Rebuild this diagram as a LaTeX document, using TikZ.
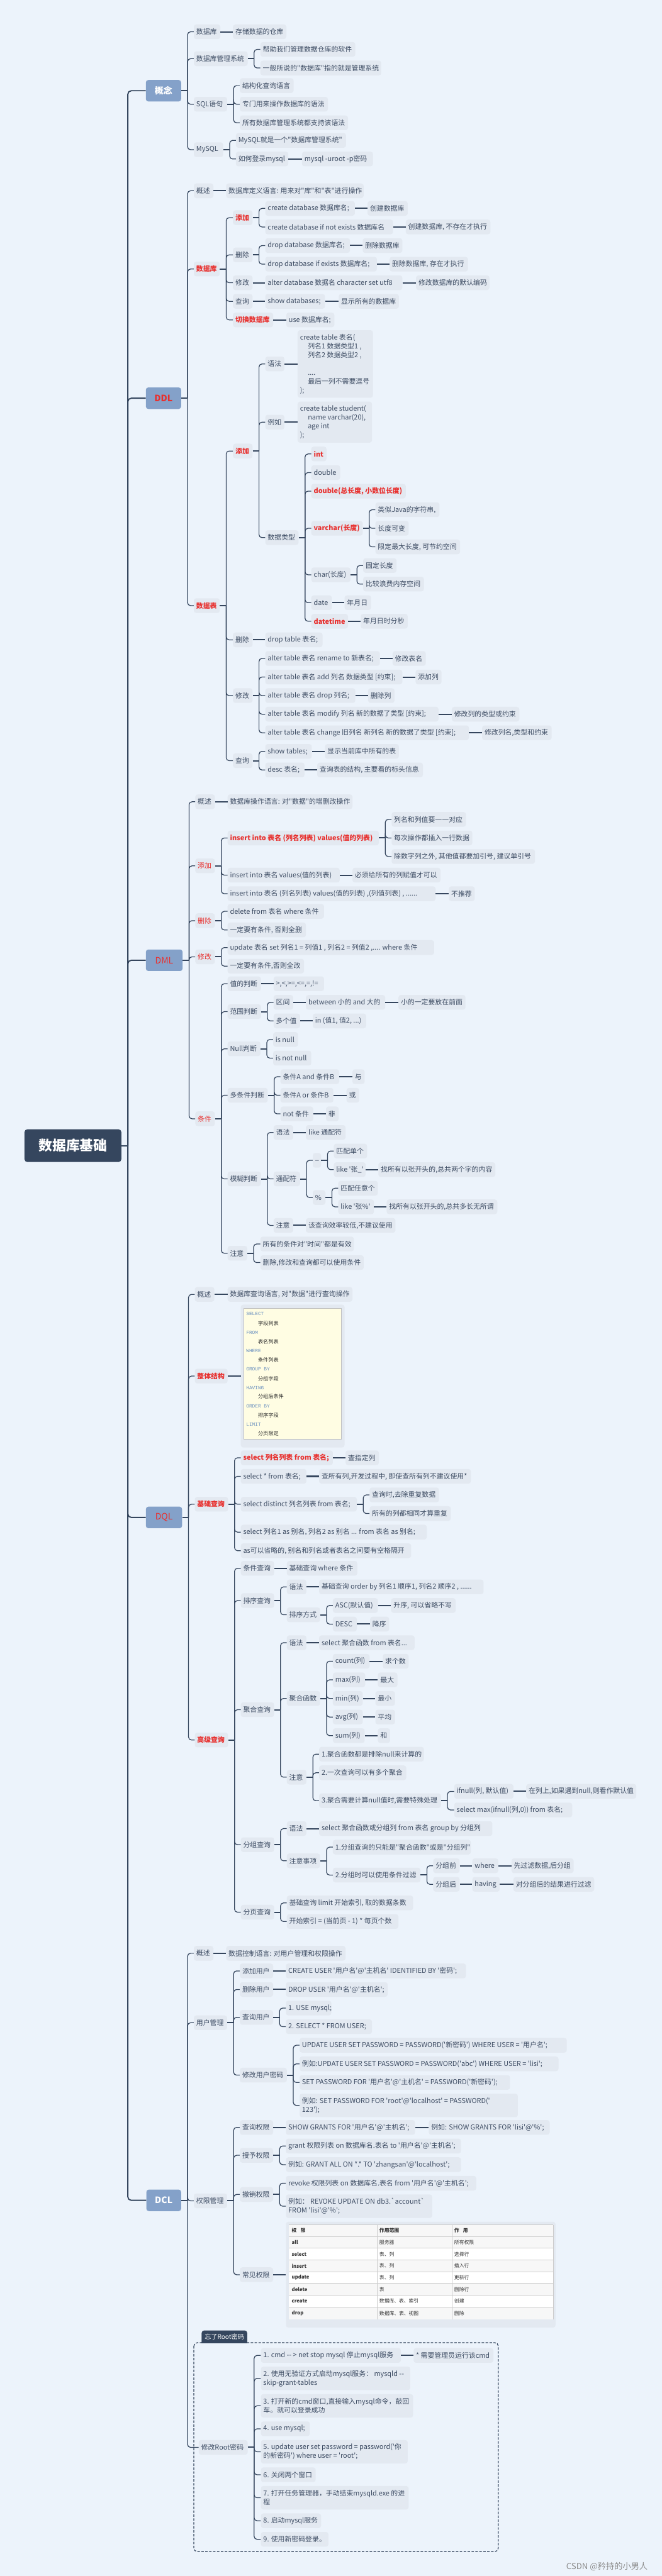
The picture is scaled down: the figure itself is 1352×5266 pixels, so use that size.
\documentclass[tikz,border=0pt]{standalone}
\usepackage{fontspec}
\newfontfamily\mf{Noto Sans CJK SC}
\newfontfamily\mn{Liberation Mono}
\definecolor{bgc}{HTML}{ECF3FB}
\definecolor{boxc}{HTML}{E3E9F1}
\definecolor{ink}{HTML}{3D4C63}
\definecolor{linec}{HTML}{35465E}
\definecolor{mainc}{HTML}{84A1C9}
\definecolor{redc}{HTML}{E8302E}
\definecolor{yel}{HTML}{FFFDE3}
\definecolor{kwc}{HTML}{6A90BF}
\tikzset{
  box/.style={fill=boxc,rounded corners=5pt,inner xsep=5pt,inner ysep=0pt,minimum height=30pt,text=ink,font=\mf\fontsize{14}{18}\selectfont},
  rd/.style={text=redc},
  rb/.style={text=redc,font=\mf\bfseries\fontsize{14}{18}\selectfont},
  mainbox/.style={fill=mainc,rounded corners=5pt,inner sep=0pt,minimum height=44pt,text=white,font=\mf\bfseries\fontsize{18}{22}\selectfont},
  stub/.style={draw=linec,line width=2.6pt},
  branch/.style={draw=linec,line width=1.6pt,rounded corners=6pt},
  mstub/.style={draw=linec,line width=3pt},
  mbranch/.style={draw=linec,line width=2.4pt,rounded corners=7pt},
  frameb/.style={draw=linec,line width=1.6pt,dash pattern=on 5pt off 3pt,rounded corners=7pt},
  kw/.style={anchor=west,inner sep=0pt,text=kwc,font=\mn\fontsize{10}{12}\selectfont},
  zh/.style={anchor=west,inner sep=0pt,text=black!85,font=\mf\fontsize{10.5}{12}\selectfont},
  cell/.style={anchor=west,inner sep=0pt,text=black!80,font=\mf\fontsize{10}{12}\selectfont},
  cellb/.style={cell,font=\mf\bfseries\fontsize{10}{12}\selectfont},
  wm/.style={inner sep=0pt,text=black!45,font=\mf\fontsize{17}{20}\selectfont},
}
% single-line box: [opts]{name}{x1}{x2}{y}{text}
\newcommand\nd[6][]{%
  \pgfmathsetlengthmacro\ndwd{(#4)-(#3)-10}%
  \node[box,#1,minimum width={(#4)-(#3)}] (#2) at ({((#3)+(#4))/2},#5) {\makebox[\ndwd][l]{#6}};}
% multi-line box: [opts]{name}{x1}{x2}{y}{h}{text}
\newcommand\ndm[7][]{%
  \pgfmathsetlengthmacro\ndwd{(#4)-(#3)-10}%
  \node[box,#1,align=left,text width=\ndwd,minimum height=#6pt] (#2) at ({((#3)+(#4))/2},#5) {\spaceskip=0pt\xspaceskip=0pt #7};}
\newcommand\mnd[6][]{\node[mainbox,#1,minimum width={(#4)-(#3)}] (#2) at ({((#3)+(#4))/2},#5) {#6};}
% parent to children
\newcommand\tree[2]{%
  \draw[stub] (#1.east) -- ++(13,0);
  \foreach \c in {#2}{\draw[branch] ([xshift=13pt]#1.east) |- (\c.west);}}
\newcommand\lnk[2]{\draw[stub] (#1.east) -- (#2.west);}
\begin{document}
\begin{tikzpicture}[x=1pt,y=-1pt]
\useasboundingbox (0,0) rectangle (1352,5266);
\fill[bgc] (0,0) rectangle (1352,5266);
\node[fill=linec,rounded corners=6pt,inner sep=0pt,minimum width=198pt,minimum height=67pt,text=white,font=\mf\bfseries\fontsize{28}{32}\selectfont] (root) at (149,2342) {数据库基础};
% ---------- main nodes
\mnd{m1}{298}{370}{185.5}{概念}
\mnd[text=redc]{m2}{298}{370}{814}{DDL}
\mnd[text=redc,font=\mf\fontsize{18}{22}\selectfont]{m3}{298}{373}{1963}{DML}
\mnd[text=redc,font=\mf\fontsize{18}{22}\selectfont]{m4}{298}{372}{3102}{DQL}
\mnd{m5}{299}{370}{4498}{DCL}
\draw[mstub] (root.east) -- ++(13,0);
\foreach \c in {m1,m2,m3,m4,m5}{\draw[mbranch] ([xshift=13pt]root.east) |- (\c.west);}
% ---------- concept
\nd{a1}{396}{450}{65}{数据库}
\nd{a1a}{476}{585}{65}{存储数据的仓库}
\nd{a2}{396}{506}{120}{数据库管理系统}
\nd{a2a}{532}{726}{101}{帮助我们管理数据仓库的软件}
\nd{a2b}{532}{779}{139}{一般所说的"数据库"指的就是管理系统}
\nd{a3}{396}{464}{213}{SQL语句}
\nd{a3a}{490}{600}{175}{结构化查询语言}
\nd{a3b}{490}{670}{213}{专门用来操作数据库的语法}
\nd{a3c}{490}{711}{251}{所有数据库管理系统都支持该语法}
\nd{a4}{396}{456}{306}{MySQL}
\nd{a4a}{482}{707}{287}{MySQL就是一个"数据库管理系统"}
\nd{a4b}{482}{589}{325}{如何登录mysql}
\nd{a4c}{617}{762}{325}{mysql -uroot -p密码}
\tree{m1}{a1,a2,a3,a4}
\lnk{a1}{a1a}\tree{a2}{a2a,a2b}\tree{a3}{a3a,a3b,a3c}\tree{a4}{a4a,a4b}\lnk{a4b}{a4c}
% ---------- DDL: database
\nd{b1}{396}{436}{390}{概述}
\nd{b1a}{462}{743}{390}{数据库定义语言: 用来对"库"和"表"进行操作}
\nd[rb]{b2}{396}{449}{550}{数据库}
\nd[rb]{b3}{476}{516}{445}{添加}
\nd{b3a}{542}{725}{426}{create database 数据库名;}
\nd{b3a1}{751}{833}{426}{创建数据库}
\nd{b3b}{542}{803}{464}{create database if not exists 数据库名}
\nd{b3b1}{829}{1002}{464}{创建数据库, 不存在才执行}
\nd{b4}{476}{516}{521}{删除}
\nd{b4a}{542}{715}{502}{drop database 数据库名;}
\nd{b4a1}{741}{822}{502}{删除数据库}
\nd{b4b}{542}{770}{540}{drop database if exists 数据库名;}
\nd{b4b1}{796}{956}{540}{删除数据库, 存在才执行}
\nd{b5}{476}{516}{578}{修改}
\nd{b5a}{542}{822}{578}{alter database 数据名 character set  utf8}
\nd{b5b}{850}{1000}{578}{修改数据库的默认编码}
\nd{b6}{476}{516}{616}{查询}
\nd{b6a}{542}{664}{616}{show databases;}
\nd{b6b}{692}{815}{616}{显示所有的数据库}
\nd[rb]{b7}{476}{558}{654}{切换数据库}
\nd{b7a}{585}{683}{654}{use 数据库名;}
% ---------- DDL: table
\nd[rb]{c0}{396}{449}{1238}{数据表}
\nd[rb]{c1}{476}{516}{922}{添加}
\nd{c1a}{542}{581}{744}{语法}
\ndm{c1a1}{608}{762}{744}{138}{create table 表名(\\\hspace*{16pt}列名1 数据类型1 ,\\\hspace*{16pt}列名2 数据类型2 ,\\\mbox{}\\\hspace*{16pt}....\\\mbox{\hspace*{16pt}最后一列不需要逗号}\\);}
\nd{c1b}{542}{581}{863}{例如}
\ndm{c1b1}{608}{760}{863}{84}{create table student(\\\hspace*{16pt}name varchar(20),\\\hspace*{16pt}age int\\);}
\nd{c1c}{542}{610}{1099}{数据类型}
\nd[rb]{t1}{636}{667}{928}{int}
\nd{t2}{636}{695}{966}{double}
\nd[rb]{t3}{636}{829}{1004}{double(总长度, 小数位长度)}
\nd[rb]{t4}{636}{741}{1080}{varchar(长度)}
\nd{t4a}{767}{898}{1042}{类似Java的字符串,}
\nd{t4b}{767}{835}{1080}{长度可变}
\nd{t4c}{767}{940}{1118}{限定最大长度, 可节约空间}
\nd{t5}{636}{716}{1175}{char(长度)}
\nd{t5a}{742}{810}{1156}{固定长度}
\nd{t5b}{742}{866}{1194}{比较浪费内存空间}
\nd{t6}{636}{678}{1232}{date}
\nd{t6a}{704}{758}{1232}{年月日}
\nd[rb]{t7}{636}{711}{1270}{datetime}
\nd{t7a}{737}{833}{1270}{年月日时分秒}
\nd{c2}{476}{516}{1308}{删除}
\nd{c2a}{542}{659}{1308}{drop table 表名;}
\nd{c3}{476}{516}{1422}{修改}
\nd{c3a}{542}{776}{1346}{alter table 表名 rename to 新表名;}
\nd{c3a1}{802}{870}{1346}{修改表名}
\nd{c3b}{542}{822}{1384}{alter table 表名 add 列名 数据类型 [约束];}
\nd{c3b1}{849}{902}{1384}{添加列}
\nd{c3c}{542}{726}{1422}{alter table 表名 drop 列名;}
\nd{c3c1}{752}{806}{1422}{删除列}
\nd{c3d}{542}{896}{1460}{alter table 表名 modify 列名 新的数据了类型 [约束];}
\nd{c3d1}{923}{1061}{1460}{修改列的类型或约束}
\nd{c3e}{542}{958}{1498}{alter table 表名 change 旧列名 新列名 新的数据了类型 [约束];}
\nd{c3e1}{985}{1127}{1498}{修改列名,类型和约束}
\nd{c4}{476}{516}{1555}{查询}
\nd{c4a}{542}{637}{1536}{show tables;}
\nd{c4a1}{664}{815}{1536}{显示当前库中所有的表}
\nd{c4b}{542}{622}{1574}{desc 表名;}
\nd{c4b1}{648}{864}{1574}{查询表的结构, 主要看的标头信息}
\tree{m2}{b1,b2,c0}
\lnk{b1}{b1a}\tree{b2}{b3,b4,b5,b6,b7}
\tree{b3}{b3a,b3b}\lnk{b3a}{b3a1}\lnk{b3b}{b3b1}
\tree{b4}{b4a,b4b}\lnk{b4a}{b4a1}\lnk{b4b}{b4b1}
\lnk{b5}{b5a}\lnk{b5a}{b5b}\lnk{b6}{b6a}\lnk{b6a}{b6b}\lnk{b7}{b7a}
\tree{c0}{c1,c2,c3,c4}
\tree{c1}{c1a,c1b,c1c}\lnk{c1a}{c1a1}\lnk{c1b}{c1b1}
\tree{c1c}{t1,t2,t3,t4,t5,t6,t7}
\tree{t4}{t4a,t4b,t4c}\tree{t5}{t5a,t5b}\lnk{t6}{t6a}\lnk{t7}{t7a}
\lnk{c2}{c2a}
\tree{c3}{c3a,c3b,c3c,c3d,c3e}
\lnk{c3a}{c3a1}\lnk{c3b}{c3b1}\lnk{c3c}{c3c1}\lnk{c3d}{c3d1}\lnk{c3e}{c3e1}
\tree{c4}{c4a,c4b}\lnk{c4a}{c4a1}\lnk{c4b}{c4b1}
% ---------- DML
\nd{d1}{399}{439}{1639}{概述}
\nd{d1a}{465}{720}{1639}{数据库操作语言: 对"数据"的增删改操作}
\nd[rd]{d2}{399}{439}{1770}{添加}
\nd[rb]{d2a}{465}{774}{1713}{insert into 表名 (列名列表)  values(值的列表)}
\nd{d2a1}{800}{952}{1675}{列名和列值要一一对应}
\nd{d2a2}{800}{965}{1713}{每次操作都插入一行数据}
\nd{d2a3}{800}{1093}{1751}{除数字列之外, 其他值都要加引号, 建议单引号}
\nd{d2b}{465}{694}{1789}{insert into 表名  values(值的列表)}
\nd{d2b1}{720}{900}{1789}{必须给所有的列赋值才可以}
\nd{d2c}{465}{890}{1827}{insert into 表名 (列名列表)  values(值的列表) ,(列值列表) , ......}
\nd{d2c1}{917}{970}{1827}{不推荐}
\nd[rd]{d3}{399}{439}{1882}{删除}
\nd{d3a}{465}{662}{1863}{delete from 表名 where 条件}
\nd{d3b}{465}{625}{1901}{一定要有条件, 否则全删}
\nd[rd]{d4}{399}{439}{1956}{修改}
\nd{d4a}{465}{887}{1937}{update 表名 set 列名1 = 列值1 , 列名2 = 列值2 ,.... where 条件}
\nd{d4b}{465}{621}{1975}{一定要有条件,否则全改}
\nd[rd]{d5}{399}{439}{2287}{条件}
\nd{e1}{465}{533}{2011}{值的判断}
\nd{e1a}{559}{662}{2011}{>,<,>=,<=,=,!=}
\nd{e2}{465}{533}{2068}{范围判断}
\nd{e2a}{559}{599}{2049}{区间}
\nd{e2a1}{625}{787}{2049}{between 小的 and 大的}
\nd{e2a2}{814}{951}{2049}{小的一定要放在前面}
\nd{e2b}{559}{613}{2087}{多个值}
\nd{e2b1}{639}{748}{2087}{in (值1, 值2, ...)}
\nd{e3}{465}{532}{2144}{Null判断}
\nd{e3a}{558}{609}{2125}{is null}
\nd{e3b}{558}{636}{2163}{is not null}
\nd{e4}{465}{547}{2239}{多条件判断}
\nd{e4a}{573}{693}{2201}{条件A and 条件B}
\nd{e4a1}{720}{745}{2201}{与}
\nd{e4b}{573}{681}{2239}{条件A or 条件B}
\nd{e4b1}{708}{734}{2239}{或}
\nd{e4c}{573}{640}{2277}{not 条件}
\nd{e4c1}{666}{692}{2277}{非}
\nd{e5}{465}{533}{2410}{模糊判断}
\nd{e5a}{559}{599}{2315}{语法}
\nd{e5a1}{625}{706}{2315}{like 通配符}
\nd{e5b}{559}{613}{2410}{通配符}
\nd{f1}{639}{656}{2372}{\_}
\nd{f1a}{682}{750}{2353}{匹配单个}
\nd{f1b}{682}{747}{2391}{like '张\_'}
\nd{f1c}{773}{1012}{2391}{找所有以张开头的,总共两个字的内容}
\nd{f2}{639}{665}{2448}{\%}
\nd{f2a}{691}{772}{2429}{匹配任意个}
\nd{f2b}{691}{764}{2467}{like '张\%'}
\nd{f2c}{790}{1016}{2467}{找所有以张开头的,总共多长无所谓}
\nd{e5c}{559}{599}{2505}{注意}
\nd{e5c1}{625}{808}{2505}{该查询效率较低,不建议使用}
\nd{e6}{465}{505}{2562}{注意}
\nd{e6a}{532}{723}{2543}{所有的条件对"时间"都是有效}
\nd{e6b}{532}{743}{2581}{删除,修改和查询都可以使用条件}
\tree{m3}{d1,d2,d3,d4,d5}
\lnk{d1}{d1a}
\tree{d2}{d2a,d2b,d2c}\tree{d2a}{d2a1,d2a2,d2a3}\lnk{d2b}{d2b1}\lnk{d2c}{d2c1}
\tree{d3}{d3a,d3b}\tree{d4}{d4a,d4b}
\tree{d5}{e1,e2,e3,e4,e5,e6}
\lnk{e1}{e1a}
\tree{e2}{e2a,e2b}\lnk{e2a}{e2a1}\lnk{e2a1}{e2a2}\lnk{e2b}{e2b1}
\tree{e3}{e3a,e3b}
\tree{e4}{e4a,e4b,e4c}\lnk{e4a}{e4a1}\lnk{e4b}{e4b1}\lnk{e4c}{e4c1}
\tree{e5}{e5a,e5b,e5c}\lnk{e5a}{e5a1}\lnk{e5c}{e5c1}
\tree{e5b}{f1,f2}\tree{f1}{f1a,f1b}\lnk{f1b}{f1c}\tree{f2}{f2a,f2b}\lnk{f2b}{f2c}
\tree{e6}{e6a,e6b}
% ---------- DQL
\nd{g1}{398}{438}{2646}{概述}
\nd{g1a}{465}{720}{2646}{数据库查询语言, 对"数据"进行查询操作}
\nd[rb]{g2}{398}{465}{2813}{整体结构}
\node[fill=boxc,rounded corners=5pt,inner sep=0pt,minimum width=212pt,minimum height=292pt] (g2a) at (598,2813) {};
\node[fill=yel,draw=black!25,line width=0.7pt,inner sep=0pt,minimum width=199pt,minimum height=268pt] (yb) at (597.5,2808) {};
\node[kw] (y1) at (503,2686) {SELECT};
\node[zh] (y2) at (527,2705) {字段列表};
\node[kw] (y3) at (503,2724) {FROM};
\node[zh] (y4) at (527,2743) {表名列表};
\node[kw] (y5) at (503,2762) {WHERE};
\node[zh] (y6) at (527,2780) {条件列表};
\node[kw] (y7) at (503,2799) {GROUP BY};
\node[zh] (y8) at (527,2818) {分组字段};
\node[kw] (y9) at (503,2837) {HAVING};
\node[zh] (y10) at (527,2855) {分组后条件};
\node[kw] (y11) at (503,2875) {ORDER BY};
\node[zh] (y12) at (527,2893) {排序字段};
\node[kw] (y13) at (503,2912) {LIMIT};
\node[zh] (y14) at (527,2931) {分页限定};
\nd[rb]{g3}{398}{466}{3075}{基础查询}
\nd[rb]{g3a}{492}{680}{2980}{select 列名列表 from 表名;}
\nd{g3a1}{706}{774}{2980}{查指定列}
\nd{g3b}{492}{626}{3018}{select * from 表名;}
\nd{g3b1}{652}{962}{3018}{查所有列,开发过程中, 即使查所有列不建议使用*}
\nd{g3c}{492}{729}{3075}{select distinct 列名列表 from 表名;}
\nd{g3c1}{755}{897}{3056}{查询时,去除重复数据}
\nd{g3c2}{755}{921}{3094}{所有的列都相同才算重复}
\nd{g3d}{492}{872}{3132}{select 列名1 as 别名, 列名2 as 别名 ...  from 表名 as 别名;}
\nd{g3e}{492}{840}{3170}{as可以省略的, 别名和列名或者表名之间要有空格隔开}
\nd[rb]{g4}{398}{466}{3557}{高级查询}
\nd{h1}{492}{560}{3206}{条件查询}
\nd{h1a}{586}{730}{3206}{基础查询 where 条件}
\nd{h2}{492}{560}{3272}{排序查询}
\nd{h2a}{586}{626}{3244}{语法}
\nd{h2a1}{652}{988}{3244}{基础查询 order by  列名1 顺序1, 列名2 顺序2 , ......}
\nd{h2b}{586}{654}{3301}{排序方式}
\nd{h2c}{680}{772}{3282}{ASC(默认值)}
\nd{h2c1}{799}{931}{3282}{升序, 可以省略不写}
\nd{h2d}{680}{729}{3320}{DESC}
\nd{h2d1}{756}{795}{3320}{降序}
\nd{h3}{492}{560}{3495}{聚合查询}
\nd{h3a}{586}{626}{3358}{语法}
\nd{h3a1}{652}{847}{3358}{select 聚合函数  from 表名...}
\nd{h3b}{586}{654}{3472}{聚合函数}
\nd{i1}{680}{755}{3396}{count(列)}
\nd{i1a}{782}{835}{3396}{求个数}
\nd{i2}{680}{746}{3434}{max(列)}
\nd{i2a}{772}{812}{3434}{最大}
\nd{i3}{680}{741}{3472}{min(列)}
\nd{i3a}{767}{807}{3472}{最小}
\nd{i4}{680}{741}{3510}{avg(列)}
\nd{i4a}{767}{807}{3510}{平均}
\nd{i5}{680}{745}{3548}{sum(列)}
\nd{i5a}{772}{797}{3548}{和}
\nd{h3c}{586}{626}{3633}{注意}
\nd{h3c1}{652}{866}{3586}{1.聚合函数都是排除null来计算的}
\nd{h3c2}{652}{830}{3624}{2.一次查询可以有多个聚合}
\nd{h3c3}{652}{901}{3681}{3.聚合需要计算null值时,需要特殊处理}
\nd{h3d}{928}{1049}{3662}{ifnull(列, 默认值)}
\nd{h3d1}{1075}{1300}{3662}{在列上,如果遇到null,则看作默认值}
\nd{h3e}{928}{1169}{3700}{select max(ifnull(列,0))  from 表名;}
\nd{h4}{492}{560}{3771}{分组查询}
\nd{h4a}{586}{626}{3738}{语法}
\nd{h4a1}{652}{1006}{3738}{select 聚合函数或分组列 from 表名 group by 分组列}
\nd{h4b}{586}{654}{3804}{注意事项}
\nd{h4c}{680}{962}{3776}{1.分组查询的只能是"聚合函数"或是"分组列"}
\nd{h4d}{680}{859}{3833}{2.分组时可以使用条件过滤}
\nd{h4e}{885}{939}{3814}{分组前}
\nd{h4e1}{965}{1018}{3814}{where}
\nd{h4e2}{1045}{1172}{3814}{先过滤数据,后分组}
\nd{h4f}{885}{939}{3852}{分组后}
\nd{h4f1}{965}{1021}{3852}{having}
\nd{h4f2}{1049}{1214}{3852}{对分组后的结果进行过滤}
\nd{h5}{492}{560}{3909}{分页查询}
\nd{h5a}{586}{844}{3890}{基础查询  limit 开始索引, 取的数据条数}
\nd{h5b}{586}{814}{3928}{开始索引 = (当前页 - 1) * 每页个数}
\tree{m4}{g1,g2,g3,g4}
\lnk{g1}{g1a}\lnk{g2}{g2a}
\tree{g3}{g3a,g3b,g3c,g3d,g3e}\lnk{g3a}{g3a1}\lnk{g3b}{g3b1}\tree{g3c}{g3c1,g3c2}
\tree{g4}{h1,h2,h3,h4,h5}
\lnk{h1}{h1a}
\tree{h2}{h2a,h2b}\lnk{h2a}{h2a1}\tree{h2b}{h2c,h2d}\lnk{h2c}{h2c1}\lnk{h2d}{h2d1}
\tree{h3}{h3a,h3b,h3c}\lnk{h3a}{h3a1}
\tree{h3b}{i1,i2,i3,i4,i5}\lnk{i1}{i1a}\lnk{i2}{i2a}\lnk{i3}{i3a}\lnk{i4}{i4a}\lnk{i5}{i5a}
\tree{h3c}{h3c1,h3c2,h3c3}\tree{h3c3}{h3d,h3e}\lnk{h3d}{h3d1}
\tree{h4}{h4a,h4b}\lnk{h4a}{h4a1}\tree{h4b}{h4c,h4d}\tree{h4d}{h4e,h4f}
\lnk{h4e}{h4e1}\lnk{h4e1}{h4e2}\lnk{h4f}{h4f1}\lnk{h4f1}{h4f2}
\tree{h5}{h5a,h5b}
% ---------- DCL
\nd{j1}{396}{436}{3993}{概述}
\nd{j1a}{462}{706}{3993}{数据控制语言: 对用户管理和权限操作}
\nd{j2}{396}{464}{4135}{用户管理}
\nd{k1}{490}{558}{4029}{添加用户}
\nd{k1a}{584}{952}{4029}{CREATE USER '用户名'@'主机名' IDENTIFIED BY '密码';}
\nd{k2}{490}{558}{4067}{删除用户}
\nd{k2a}{584}{792}{4067}{DROP USER '用户名'@'主机名';}
\nd{k3}{490}{558}{4124}{查询用户}
\nd{k3a}{584}{677}{4105}{1. USE mysql;}
\nd{k3b}{584}{760}{4143}{2. SELECT * FROM USER;}
\nd{k4}{490}{586}{4242}{修改用户密码}
\nd{k4a}{612}{1158}{4181}{UPDATE USER SET PASSWORD = PASSWORD('新密码') WHERE USER = '用户名';}
\nd{k4b}{612}{1141}{4219}{例如:UPDATE USER SET PASSWORD = PASSWORD('abc') WHERE USER = 'lisi';}
\nd{k4c}{612}{1042}{4257}{SET PASSWORD FOR '用户名'@'主机名' = PASSWORD('新密码');}
\ndm{k4d}{612}{1058}{4304}{48}{\mbox{例如: SET PASSWORD FOR 'root'@'localhost' = PASSWORD('}\\123');}
\nd{j3}{396}{464}{4499}{权限管理}
\nd{l1}{490}{558}{4349}{查询权限}
\nd{l1a}{584}{848}{4349}{SHOW GRANTS FOR '用户名'@'主机名';}
\nd{l1b}{876}{1123}{4349}{例如: SHOW GRANTS FOR 'lisi'@'\%';}
\nd{l2}{490}{558}{4406}{授予权限}
\nd{l2a}{584}{942}{4387}{grant 权限列表 on 数据库名.表名 to '用户名'@'主机名';}
\nd{l2b}{584}{942}{4425}{例如: GRANT ALL ON *.* TO 'zhangsan'@'localhost';}
\nd{l3}{490}{558}{4486}{撤销权限}
\nd{l3a}{584}{973}{4463}{revoke 权限列表 on 数据库名.表名 from '用户名'@'主机名';}
\ndm{l3b}{584}{883}{4510}{48}{\mbox{例如： REVOKE UPDATE ON db3.`account`}\\FROM 'lisi'@'\%';}
\nd{l4}{490}{558}{4650}{常见权限}
\node[fill=boxc,rounded corners=5pt,inner sep=0pt,minimum width=551pt,minimum height=216pt] (l4a) at (859.5,4650) {};
% table
\fill[black!3] (590,4548) rectangle (1130,4742);
\foreach \ya/\yb in {4596/4620,4644/4668,4692/4716}{\fill[white] (590,\ya) rectangle (1130,\yb);}
\foreach \yy in {4548,4572,4596,4620,4644,4668,4692,4716}{\draw[black!20,line width=1.2pt] (590,\yy) -- (1130,\yy);}
\foreach \xx in {770,923,1130}{\draw[black!20,line width=1pt] (\xx,4548) -- (\xx,4742);}
\node[cellb] (th1) at (596,4560) {权\hspace{8pt}限};
\node[cellb] (th2) at (775,4560) {作用范围};
\node[cellb] (th3) at (928,4560) {作\hspace{8pt}用};
\foreach \n/\yy/\ca/\cb/\cc in {1/4584/all/服务器/所有权限,2/4608/select/表、列/选择行,3/4632/insert/表、列/插入行,4/4656/update/表、列/更新行,5/4680/delete/表/删除行,6/4704/create/数据库、表、索引/创建,7/4729/drop/数据库、表、视图/删除}{
  \node[cellb] (r\n a) at (596,\yy) {\ca};
  \node[cell] (r\n b) at (775,\yy) {\cb};
  \node[cell] (r\n c) at (928,\yy) {\cc};}
% root password
\draw[frameb] (396,4789) rectangle (1018,5216);
\fill[linec,rounded corners=5pt] (412,4800) -- (412,4764) -- (505,4764) -- (505,4800) -- cycle;
\fill[bgc] (410,4790.5) rectangle (507,4802);
\draw[frameb] (412,4789) -- (505,4789);
\node[inner sep=0pt,text=white,font=\mf\fontsize{13}{16}\selectfont] (tab) at (458.5,4777) {忘了Root密码};
\nd{n0}{406}{506}{5003}{修改Root密码}
\nd{n1}{533}{819}{4815}{1. cmd -- > net stop mysql 停止mysql服务}
\nd{n1a}{845}{1008}{4815}{* 需要管理员运行该cmd}
\ndm{n2}{533}{838}{4862}{48}{\mbox{2. 使用无验证方式启动mysql服务： mysqld --}\\skip-grant-tables}
\ndm{n3}{533}{844}{4918}{48}{\mbox{3. 打开新的cmd窗口,直接输入mysql命令，敲回}\\车。就可以登录成功}
\nd{n4}{533}{633}{4965}{4. use mysql;}
\ndm{n5}{533}{833}{5012}{48}{\mbox{5. update user set password = password('你}\\的新密码') where user = 'root';}
\nd{n6}{533}{645}{5059}{6. 关闭两个窗口}
\ndm{n7}{533}{835}{5106}{48}{\mbox{7. 打开任务管理器，手动结束mysqld.exe 的进}\\程}
\nd{n8}{533}{656}{5153}{8. 启动mysql服务}
\nd{n9}{533}{671}{5191}{9. 使用新密码登录。}
\tree{m5}{j1,j2,j3,n0}
\lnk{j1}{j1a}
\tree{j2}{k1,k2,k3,k4}\lnk{k1}{k1a}\lnk{k2}{k2a}\tree{k3}{k3a,k3b}\tree{k4}{k4a,k4b,k4c,k4d}
\tree{j3}{l1,l2,l3,l4}
\lnk{l1}{l1a}\lnk{l1a}{l1b}\tree{l2}{l2a,l2b}\tree{l3}{l3a,l3b}\lnk{l4}{l4a}
\tree{n0}{n1,n2,n3,n4,n5,n6,n7,n8,n9}\lnk{n1}{n1a}
\node[wm] (wmk) at (1240,5247) {CSDN @矜持的小男人};
\end{tikzpicture}
\end{document}
